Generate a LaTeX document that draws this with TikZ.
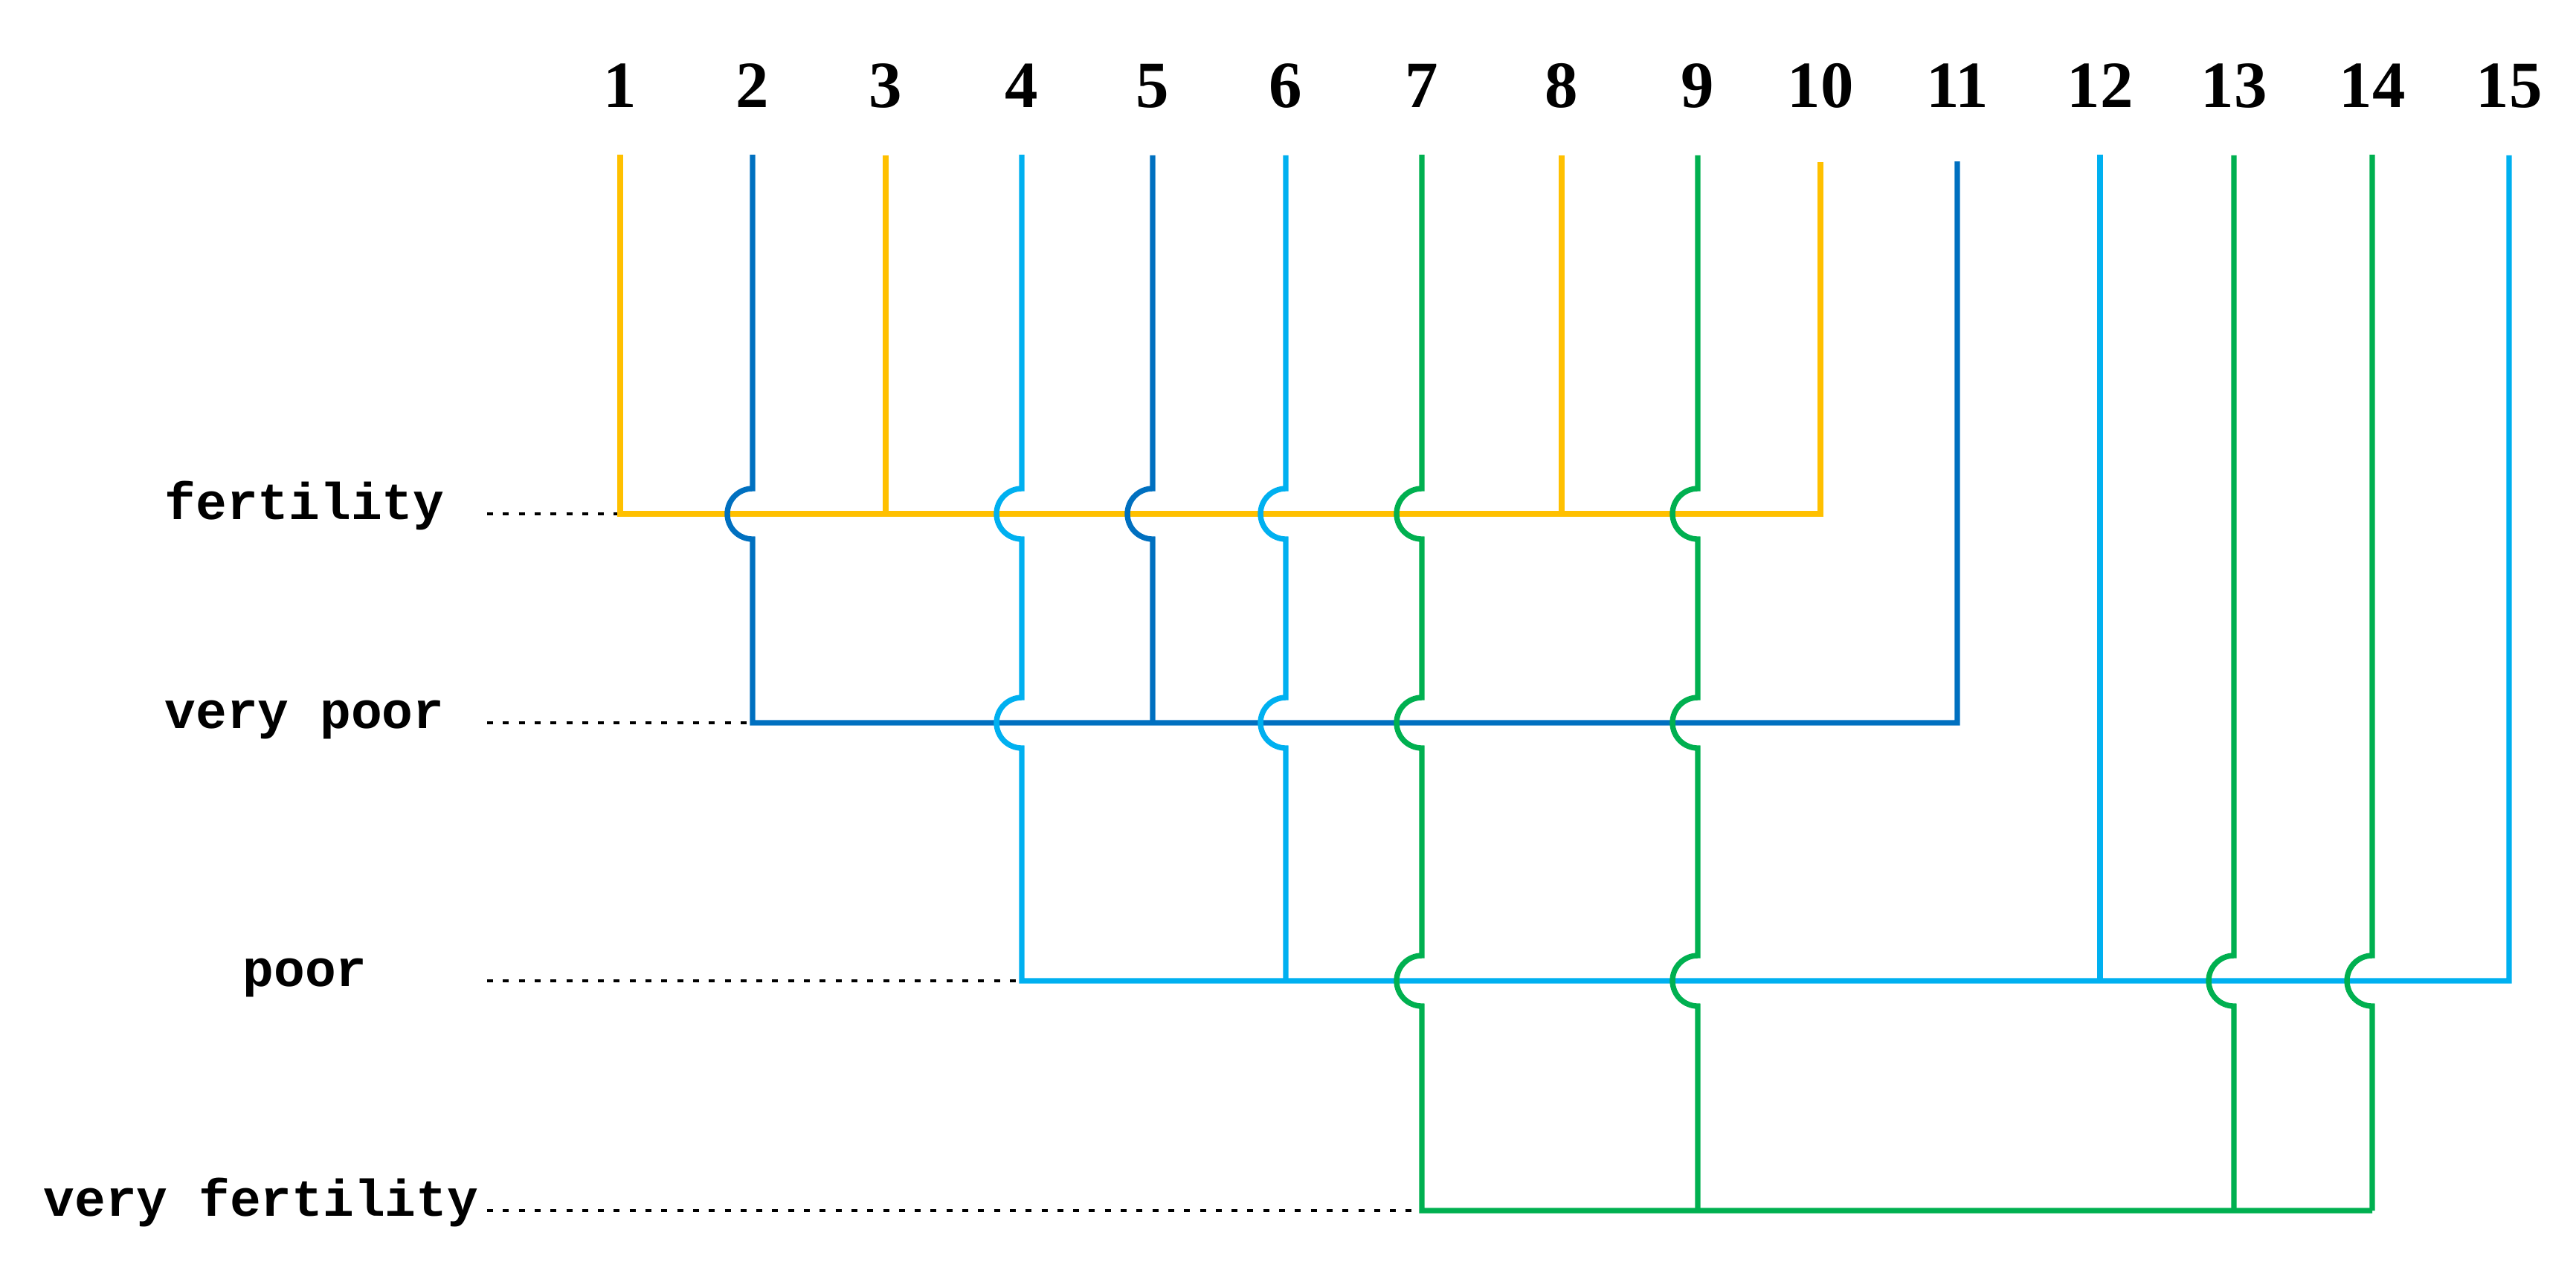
\documentclass[tikz,border=0pt]{standalone}
\usepackage{fontspec}
\newfontfamily\lblfont{Liberation Mono}
\newfontfamily\numfont{Liberation Serif}
\definecolor{cfert}{HTML}{FFC000}
\definecolor{cvpoor}{HTML}{0070C0}
\definecolor{cpoor}{HTML}{00B0F0}
\definecolor{cvfert}{HTML}{00B050}
\tikzset{
    dendro/.style={
        num/.append style={font=\numfont\bfseries\fontsize{25.3}{26}\selectfont,inner sep=0pt,anchor=base,outer ysep=0.64cm},
        lbl/.append style={font=\lblfont\bfseries\fontsize{19.8}{20}\selectfont,inner sep=0pt,anchor=mid west},
        fert/.append style={draw=cfert,line width=2.1pt},
        vpoor/.append style={draw=cvpoor,line width=2.1pt},
        poor/.append style={draw=cpoor,line width=2.1pt},
        vfert/.append style={draw=cvfert,line width=2.1pt},
        guide/.append style={draw=black,line width=1.3pt,dash pattern=on 0.08cm off 0.133cm}
    },
    hop/.style 2 args={insert path={-- ([yshift=0.34cm]#1.south |- #2.mid) arc[start angle=90,end angle=270,radius=0.34cm]}}
}

\begin{document}
\begin{tikzpicture}[dendro]
    \useasboundingbox (0,0) rectangle (34.64,-17.19);
    \node[num] (n1) at (8.34,-1.44) {1};
    \node[num] (n2) at (10.12,-1.44) {2};
    \node[num] (n3) at (11.91,-1.44) {3};
    \node[num] (n4) at (13.74,-1.44) {4};
    \node[num] (n5) at (15.50,-1.44) {5};
    \node[num] (n6) at (17.29,-1.44) {6};
    \node[num] (n7) at (19.12,-1.44) {7};
    \node[num] (n8) at (21.00,-1.44) {8};
    \node[num] (n9) at (22.83,-1.44) {9};
    \node[num] (n10) at (24.48,-1.44) {10};
    \node[num] (n11) at (26.32,-1.44) {11};
    \node[num] (n12) at (28.24,-1.44) {12};
    \node[num] (n13) at (30.04,-1.44) {13};
    \node[num] (n14) at (31.90,-1.44) {14};
    \node[num] (n15) at (33.74,-1.44) {15};
    \node[lbl] (lf) at (2.21,-6.91) {fertility};
    \node[lbl] (lvp) at (2.21,-9.72) {very poor};
    \node[lbl] (lp) at (3.26,-13.19) {poor};
    \node[lbl] (lvf) at (0.58,-16.28) {very fertility};
    \coordinate (gl) at (6.55,0);
    \draw[guide] (gl |- lf.mid) -- (n1.south |- lf.mid);
    \draw[guide] (gl |- lvp.mid) -- (n2.south |- lvp.mid);
    \draw[guide] (gl |- lp.mid) -- (n4.south |- lp.mid);
    \draw[guide] (gl |- lvf.mid) -- (n7.south |- lvf.mid);
    % fertility
    \draw[fert] (n1.south) -- (n1.south |- lf.mid) -- (n10.south |- lf.mid) -- ([yshift=-0.09cm]n10.south);
    \draw[fert] (n3.south) -- (n3.south |- lf.mid);
    \draw[fert] (n8.south) -- (n8.south |- lf.mid);
    % very poor
    \draw[vpoor] (n2.south) [hop={n2}{lf}] -- (n2.south |- lvp.mid) -- (n11.south |- lvp.mid) -- ([yshift=-0.09cm]n11.south);
    \draw[vpoor] (n5.south) [hop={n5}{lf}] -- (n5.south |- lvp.mid);
    % poor
    \draw[poor] (n4.south) [hop={n4}{lf}] [hop={n4}{lvp}] -- (n4.south |- lp.mid) -- (n15.south |- lp.mid) -- (n15.south);
    \draw[poor] (n6.south) [hop={n6}{lf}] [hop={n6}{lvp}] -- (n6.south |- lp.mid);
    \draw[poor] (n12.south) -- (n12.south |- lp.mid);
    % very fertility
    \draw[vfert] (n7.south) [hop={n7}{lf}] [hop={n7}{lvp}] [hop={n7}{lp}] -- (n7.south |- lvf.mid) -- (n14.south |- lvf.mid);
    \draw[vfert] (n9.south) [hop={n9}{lf}] [hop={n9}{lvp}] [hop={n9}{lp}] -- (n9.south |- lvf.mid);
    \draw[vfert] (n13.south) [hop={n13}{lp}] -- (n13.south |- lvf.mid);
    \draw[vfert] (n14.south) [hop={n14}{lp}] -- (n14.south |- lvf.mid);
\end{tikzpicture}
\end{document}
